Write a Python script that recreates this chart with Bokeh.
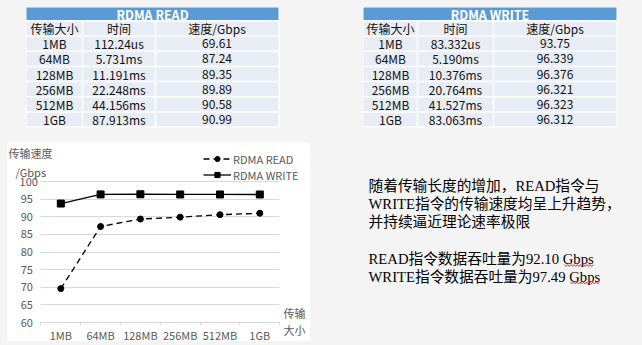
from bokeh.plotting import figure
from bokeh.layouts import row, column
from bokeh.models import (Range1d, FixedTicker, Label, Legend, LegendItem, ColumnDataSource,
                          LinearAxis)
from bokeh.core.properties import value
from bokeh.embed import file_html
from bokeh.resources import INLINE

# ---------------- data ----------------
sizes = ["1MB", "64MB", "128MB", "256MB", "512MB", "1GB"]
read_time = ["112.24us", "5.731ms", "11.191ms", "22.248ms", "44.156ms", "87.913ms"]
read_speed = [69.61, 87.24, 89.35, 89.89, 90.58, 90.99]
write_time = ["83.332us", "5.190ms", "10.376ms", "20.764ms", "41.527ms", "83.063ms"]
write_speed = [93.75, 96.339, 96.376, 96.321, 96.323, 96.312]
col_headers = ["传输大小", "时间", "速度/Gbps"]
y_ticks = [60, 65, 70, 75, 80, 85, 90, 95, 100]
note_lines = [
    "随着传输长度的增加，READ指令与",
    "WRITE指令的传输速度均呈上升趋势，",
    "并持续逼近理论速率极限",
    "READ指令数据吞吐量为92.10 Gbps",
    "WRITE指令数据吞吐量为97.49 Gbps",
]

PAGE_BG = "#f4f4f4"
HEAD_BLUE = "#5b9bd5"
CELL = "#e8ecf5"
GRAY_TXT = "#595959"
GRID = "#d9d9d9"
CJK_NAME = "Noto Sans CJK SC"
CJK = value(CJK_NAME)


def blank_fig(w, h, xr, yr, bg, **kw):
    p = figure(width=w, height=h, x_range=xr, y_range=yr, output_backend="svg",
               toolbar_location=None, x_axis_location=None, y_axis_location=None,
               min_border=0, outline_line_color=None,
               background_fill_color=bg, border_fill_color=bg, **kw)
    p.xgrid.visible = False
    p.ygrid.visible = False
    return p


# ---------------- tables ----------------
top = blank_fig(642, 135, Range1d(0, 642), Range1d(135, 0), PAGE_BG)


def draw_table(p, edges, title, times, speeds):
    t0, hb, r0, pitch = 7, 19.5, 20.5, 15.15
    nrows = len(sizes) + 1
    bottom = r0 + nrows * pitch
    p.quad(left=[edges[0] - 0.5], right=[edges[-1] + 1.5], top=[t0], bottom=[bottom + 0.5],
           fill_color="white", line_color=None)
    p.quad(left=[edges[0]], right=[edges[-1]], top=[t0], bottom=[hb],
           fill_color=HEAD_BLUE, line_color=None)
    L, R, T, B = [], [], [], []
    for r in range(nrows):
        for c in range(3):
            L.append(edges[c] + (0 if c == 0 else 0.75))
            R.append(edges[c + 1] - (0 if c == 2 else 0.75))
            T.append(r0 + r * pitch + 0.75)
            B.append(r0 + (r + 1) * pitch - 0.75)
    p.quad(left=L, right=R, top=T, bottom=B, fill_color=CELL, line_color=None)
    p.text(x=[(edges[0] + edges[-1]) / 2], y=[(t0 + hb) / 2 + 0.3], text=[title],
           text_font=CJK, text_font_size="12.5px", text_font_style="bold",
           text_color="white", text_align="center", text_baseline="middle")
    cols = [[col_headers[0]] + sizes, [col_headers[1]] + times,
            [col_headers[2]] + [str(v) for v in speeds]]
    xs, ys, txt = [], [], []
    for c in range(3):
        cx = (edges[c] + edges[c + 1]) / 2
        for r in range(nrows):
            xs.append(cx)
            ys.append(r0 + (r + 0.5) * pitch)
            txt.append(cols[c][r])
    p.text(x=xs, y=ys, text=txt, text_font=CJK, text_font_size="12px",
           text_color="#111111", text_align="center", text_baseline="middle")


draw_table(top, [26, 82, 155, 278], "RDMA READ", read_time, read_speed)
draw_table(top, [363, 417, 493, 616], "RDMA WRITE", write_time, write_speed)

# ---------------- chart ----------------
# white chart panel on the page: x 7..310, y 142..341
PL, PT, PW, PH = 7, 142, 303, 199
X0_PX, X_STEP = 40.4, 39.8      # page x of category boundary 0, px per category
Y60_PX, Y_PER = 322.0, 3.525     # page y of value 60, px per unit


def dx(px):
    return (px - X0_PX) / X_STEP


def dy(py):
    return 60 + (Y60_PX - py) / Y_PER


ch = figure(width=PW, height=PH,
            x_range=Range1d(dx(PL), dx(PL + PW)), y_range=Range1d(dy(PT + PH), dy(PT)),
            output_backend="svg", toolbar_location=None, min_border=0,
            background_fill_color="white", border_fill_color="white",
            outline_line_color=None, margin=(PT - 135, 0, 345 - PT - PH, PL))

xs = [i + 0.5 for i in range(len(sizes))]
src = ColumnDataSource(dict(x=xs, read=read_speed, write=write_speed))

rl = ch.line("x", "read", source=src, line_color="black", line_width=1.3, line_dash="6 4")
rs = ch.scatter("x", "read", source=src, marker="circle", size=6,
                fill_color="black", line_color="black")
wl = ch.line("x", "write", source=src, line_color="black", line_width=1.3)
ws = ch.scatter("x", "write", source=src, marker="square", size=7,
                fill_color="black", line_color="black")

ax = ch.xaxis[0]
ax.fixed_location = y_ticks[0]
ax.bounds = (0, len(sizes))
ax.ticker = FixedTicker(ticks=xs, minor_ticks=list(range(len(sizes) + 1)))
ax.major_label_overrides = {x: s for x, s in zip(xs, sizes)}
ax.major_tick_out = 0
ax.major_tick_in = 0
ax.minor_tick_out = 3
ax.minor_tick_in = 0
ax.minor_tick_line_color = GRID
ax.axis_line_color = GRID
ax.major_label_standoff = 1
ax.major_label_text_font = CJK_NAME
ax.major_label_text_font_size = "11px"
ax.major_label_text_color = GRAY_TXT


def style_y(a, ticks, standoff):
    a.fixed_location = 0
    a.bounds = (y_ticks[0], y_ticks[-1])
    a.ticker = FixedTicker(ticks=ticks)
    a.axis_line_color = None
    a.major_tick_out = 0
    a.major_tick_in = 0
    a.minor_tick_line_color = None
    a.major_label_standoff = standoff
    a.major_label_text_font = CJK_NAME
    a.major_label_text_font_size = "11px"
    a.major_label_text_color = GRAY_TXT


# two-digit labels and the three-digit top label share a left edge, as in the reference
style_y(ch.yaxis[0], y_ticks[:-1], 8)
ay_top = LinearAxis()
style_y(ay_top, y_ticks[-1:], 3)
ch.add_layout(ay_top, "left")

ch.xgrid.visible = False
gy = ch.ygrid[0]
gy.ticker = FixedTicker(ticks=y_ticks[1:])
gy.grid_line_color = GRID
try:
    gy.cross_bounds = (0, len(sizes))
except Exception:
    gy.visible = False
    ch.segment(x0=[0] * (len(y_ticks) - 1), x1=[len(sizes)] * (len(y_ticks) - 1),
               y0=y_ticks[1:], y1=y_ticks[1:], line_color=GRID, line_width=1)

for txt, px, py in [("传输速度", 8, 152), ("/Gbps", 15, 171), ("传输", 283, 312), ("大小", 283, 329)]:
    ch.add_layout(Label(x=dx(px), y=dy(py), text=txt, text_font=CJK_NAME, text_font_size="11px",
                        text_color=GRAY_TXT, text_baseline="middle", text_align="left"))

legend = Legend(items=[LegendItem(label="RDMA READ", renderers=[rl, rs]),
                       LegendItem(label="RDMA WRITE", renderers=[wl, ws])],
                location=(203 - PL, PT + PH - 182.5), padding=0, margin=0, spacing=0,
                glyph_width=28, glyph_height=13, label_height=13, label_standoff=2,
                label_text_font=CJK_NAME, label_text_font_size="11px", label_text_color=GRAY_TXT,
                border_line_alpha=0, background_fill_alpha=0)
ch.add_layout(legend)

# ---------------- notes ----------------
tx = blank_fig(642 - PL - PW, 210, Range1d(PL + PW, 642), Range1d(345, 135), PAGE_BG)
tx.text(x=[368] * len(note_lines), y=[185, 203, 221.5, 258, 276], text=note_lines,
        text_font=value("Liberation Serif, Noto Sans CJK SC"), text_font_size="14.7px",
        text_color="black", text_align="left", text_baseline="middle")

# red spell-check squiggles under "Gbps"
for x_start, x_end, y_line in [(564, 594, 265), (570, 600, 282.5)]:
    wx, wy, k = [], [], 0
    xv = x_start
    while xv <= x_end:
        wx.append(xv)
        wy.append(y_line + (0.9 if k % 2 else -0.9))
        xv += 1.6
        k += 1
    tx.line(wx, wy, line_color="#e02020", line_width=0.9)

layout = column(top, row(ch, tx, spacing=0), spacing=0,
                styles={"background-color": PAGE_BG})

open("out.html", "w").write(file_html(layout, INLINE))
